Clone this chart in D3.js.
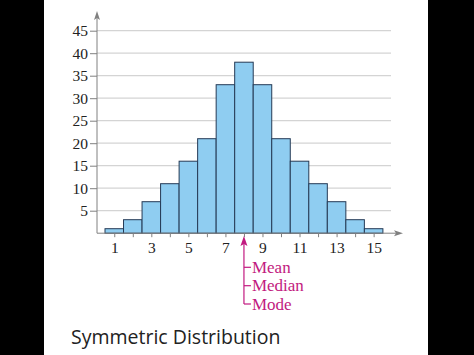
<!DOCTYPE html>
<html><head><meta charset="utf-8">
<script src="https://cdn.jsdelivr.net/npm/d3@7"></script>
<style>
html,body{margin:0;padding:0;background:#000;}
svg{display:block;}
</style></head>
<body>
<svg id="c" width="474" height="355"></svg>
<script>
const categories = [1,2,3,4,5,6,7,8,9,10,11,12,13,14,15];
const frequencies = [1,3,7,11,16,21,33,38,33,21,16,11,7,3,1];
const yTicks = [5,10,15,20,25,30,35,40,45];
const xTickLabels = [1,3,5,7,9,11,13,15];
const centerLabels = ["Mean","Median","Mode"];
const centerValue = 8;
const title = "Symmetric Distribution";

const svg = d3.select("#c");
svg.append("rect").attr("x",44).attr("y",0).attr("width",384).attr("height",355).attr("fill","#fff");

const x = d3.scaleLinear().domain([0.5,15.5]).range([105,382.9]);
const y = d3.scaleLinear().domain([0,45]).range([233.2,30.7]);
const axisX0 = 97;

// gridlines
svg.append("g").selectAll("line").data(yTicks).join("line")
  .attr("x1",axisX0).attr("x2",391)
  .attr("y1",d=>y(d)).attr("y2",d=>y(d))
  .attr("stroke","#d4d4d4").attr("stroke-width",1.2);

// bars
svg.append("g").selectAll("rect").data(categories).join("rect")
  .attr("x",d=>x(d-0.5)).attr("width",d=>x(d+0.5)-x(d-0.5))
  .attr("y",(d,i)=>y(frequencies[i])).attr("height",(d,i)=>y(0)-y(frequencies[i]))
  .attr("fill","#8fcdf1").attr("stroke","#253a55").attr("stroke-width",1);

const axisColor = "#808080";
// y axis
const yAxis = d3.axisLeft(y).tickValues(yTicks).tickSize(7).tickPadding(2);
const gy = svg.append("g").attr("transform",`translate(${axisX0},0)`).call(yAxis);
gy.select(".domain").remove();
gy.selectAll(".tick line").attr("stroke",axisColor);
gy.selectAll(".tick text").attr("font-family","Liberation Serif, serif").attr("font-size",15.5).attr("fill","#222");
svg.append("line").attr("x1",axisX0).attr("x2",axisX0).attr("y1",y(0)).attr("y2",16).attr("stroke",axisColor).attr("stroke-width",1);
svg.append("path").attr("d",`M${axisX0},11 L${axisX0-3},20 L${axisX0},18 L${axisX0+3},20 Z`).attr("fill",axisColor);

// x axis
const xAxis = d3.axisBottom(x).tickValues(categories).tickSize(4).tickFormat(d=>xTickLabels.includes(d)?d:"");
const gx = svg.append("g").attr("transform",`translate(0,${y(0)})`).call(xAxis);
gx.select(".domain").remove();
gx.selectAll(".tick line").attr("stroke",axisColor);
gx.selectAll(".tick text").attr("font-family","Liberation Serif, serif").attr("font-size",15.5).attr("fill","#222").attr("dy","0.85em");
svg.append("line").attr("x1",axisX0).attr("x2",398).attr("y1",y(0)).attr("y2",y(0)).attr("stroke",axisColor).attr("stroke-width",1);
svg.append("path").attr("d",`M403,${y(0)} L394,${y(0)-3} L396,${y(0)} L394,${y(0)+3} Z`).attr("fill",axisColor);

// center annotation
const mag = "#c21a80";
const cx = x(centerValue);
const rowY = [267.3,285.7,304];
svg.append("line").attr("x1",cx).attr("x2",cx).attr("y1",242).attr("y2",rowY[2]).attr("stroke",mag).attr("stroke-width",1.2);
svg.append("path").attr("d",`M${cx},236 L${cx-3.5},246 L${cx},244 L${cx+3.5},246 Z`).attr("fill",mag);
svg.append("g").selectAll("line").data(centerLabels).join("line")
  .attr("x1",cx).attr("x2",cx+7).attr("y1",(d,i)=>rowY[i]).attr("y2",(d,i)=>rowY[i])
  .attr("stroke",mag).attr("stroke-width",1.2);
svg.append("g").selectAll("text").data(centerLabels).join("text")
  .attr("x",cx+8).attr("y",(d,i)=>rowY[i]+5.5)
  .attr("font-family","Liberation Serif, serif").attr("font-size",17).attr("fill",mag)
  .text(d=>d);

// title
svg.append("text").attr("x",71).attr("y",343.5)
  .attr("font-family","Open Sans, sans-serif").attr("font-size",19.5).attr("fill","#222")
  .text(title);
</script>
</body></html>
